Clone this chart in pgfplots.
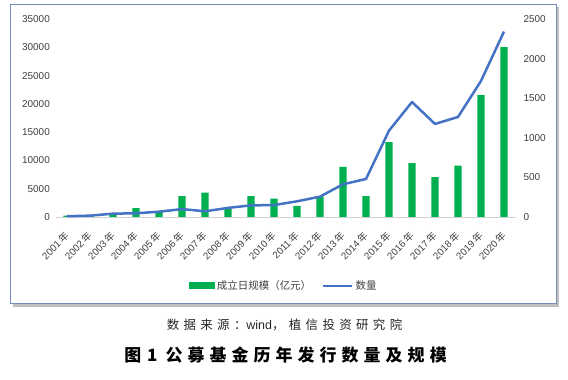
\documentclass[border=0pt]{standalone}
\usepackage{pgfplots}
\pgfplotsset{compat=1.18}
\usepackage{fontspec}
\setmainfont{Liberation Sans}
\newfontfamily\cjk{Noto Sans CJK SC}
\newfontfamily\cjkls{Noto Sans CJK SC}[LetterSpace=35]
\newfontfamily\cjkt{Noto Sans CJK SC}[LetterSpace=30]
\definecolor{barG}{HTML}{00B050}
\definecolor{lineB}{HTML}{4472C4}
\definecolor{tickT}{HTML}{404040}
\newcommand\yr[1]{#1\kern1.5bp{\cjk 年}}
\pgfplotstableread{
x scale count
0 250 10
1 300 17
2 680 42
3 1560 47
4 1030 67
5 3700 100
6 4300 72
7 1530 115
8 3700 147
9 3240 150
10 1950 198
11 3590 257
12 8840 413
13 3710 480
14 13250 1090
15 9540 1452
16 7070 1175
17 9070 1263
18 21560 1718
19 30040 2341
}\datatable
\begin{document}
\begin{tikzpicture}
\useasboundingbox (0,0) rectangle (568bp,380bp);
\fill[black!25] (13bp,73bp) rectangle (559bp,373bp);
\filldraw[fill=white, draw=lineB!80!black!70, line width=1bp] (10.7bp,76bp) rectangle (556bp,375.3bp);
\begin{axis}[
  at={(55.5bp,163bp)}, anchor=south west,
  width=460bp, height=198bp, scale only axis,
  xmin=-0.5, xmax=19.5, ymin=0, ymax=35000,
  ytick={0,5000,...,35000},
  scaled y ticks=false,
  xtick={0,...,19},
  xticklabels={\yr{2001},\yr{2002},\yr{2003},\yr{2004},\yr{2005},\yr{2006},\yr{2007},\yr{2008},\yr{2009},\yr{2010},\yr{2011},\yr{2012},\yr{2013},\yr{2014},\yr{2015},\yr{2016},\yr{2017},\yr{2018},\yr{2019},\yr{2020}},
  axis lines*=left,
  y axis line style={draw=none},
  x axis line style={draw=black!18, line width=0.8bp, -},
  major tick length=0pt,
  /pgf/number format/1000 sep={},
  /pgf/number format/assume math mode=true,
  yticklabel style={font=\fontsize{10}{12}\selectfont, text=tickT, inner sep=0pt, anchor=east, xshift=-5.5bp},
  xticklabel style={font=\fontsize{9.8}{11}\selectfont, text=tickT, inner sep=0pt, yshift=-17bp, rotate=45, anchor=east},
  legend style={at={(0.4957,-0.348)}, anchor=center, draw=none, fill=none,
    font=\cjk\fontsize{10.5}{12}\selectfont, text=tickT, legend columns=2,
    /tikz/every even column/.append style={column sep=9bp},
    inner sep=0pt, row sep=0pt},
  legend cell align=left,
  clip=false,
]
\addplot[ybar, bar width=7.3bp, fill=barG, draw=none,
  legend image code/.code={\fill[barG] (0bp,-3.5bp) rectangle (26.5bp,3.5bp);}]
  table[x=x, y=scale] {\datatable};
\addlegendentry{成立日规模（亿元）}
\addlegendimage{line legend, lineB, line width=2.5bp,
  legend image code/.code={\draw[lineB, line width=2.5bp] (0bp,0bp) -- (29bp,0bp);}}
\addlegendentry{数量}
\end{axis}
\begin{axis}[
  at={(55.5bp,163bp)}, anchor=south west,
  width=460bp, height=198bp, scale only axis,
  xmin=-0.5, xmax=19.5, ymin=0, ymax=2500,
  ytick={0,500,...,2500},
  scaled y ticks=false,
  axis x line=none,
  axis y line*=right,
  y axis line style={draw=none},
  major tick length=0pt,
  /pgf/number format/1000 sep={},
  /pgf/number format/assume math mode=true,
  yticklabel style={font=\fontsize{10}{12}\selectfont, text=tickT, inner sep=0pt, anchor=west, xshift=7.8bp},
  clip=false,
]
\addplot[lineB, line width=2.5bp, line join=round, mark=none] table[x=x, y=count] {\datatable};
\end{axis}
\node[font=\fontsize{12.5}{14}\selectfont, text=black!85] at (284.5bp,55bp) {{\cjkls 数据来源：}wind{\cjkls ，植信投资研究院}};
\node[font=\cjkt\bfseries\fontsize{17}{19}\selectfont] at (285.5bp,25bp) {图\hspace{6bp}1\hspace{8bp}公募基金历年发行数量及规模};
\end{tikzpicture}
\end{document}
